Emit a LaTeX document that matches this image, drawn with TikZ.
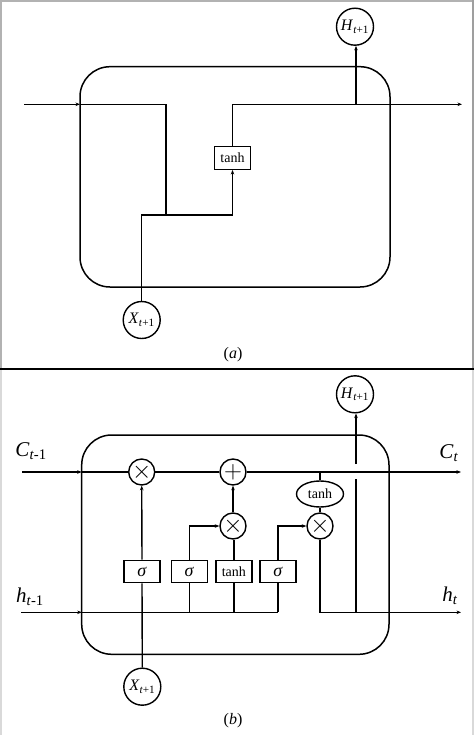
\documentclass[tikz,border=0pt]{standalone}
\usepackage{fontspec}
\setmainfont{Liberation Serif}
\usetikzlibrary{arrows.meta,shapes.geometric}
\begin{document}
\begin{tikzpicture}[x=1pt,y=-1pt,
  line/.style={line width=1.4pt, black},
  arr/.style={line, -{Stealth[length=4.5pt,width=3.5pt]}},
  cell/.style={line width=1.5pt, rounded corners=30pt},
  opc/.style={circle, draw, line width=1.4pt, minimum size=26pt, inner sep=0pt, font=\fontsize{24}{24}\selectfont},
  vc/.style={circle, draw, line width=1.4pt, minimum size=37pt, inner sep=0pt, font=\fontsize{16}{16}\selectfont},
  gate/.style={rectangle, draw, line width=1.4pt, minimum width=36pt, minimum height=22.5pt, inner sep=0pt, font=\fontsize{14}{14}\selectfont},
  sig/.style={font=\fontsize{18}{18}\selectfont},
  tanhe/.style={ellipse, draw, line width=1.4pt, minimum width=47pt, minimum height=26pt, inner sep=0pt, font=\fontsize{14}{14}\selectfont},
  lab/.style={font=\fontsize{21}{21}\selectfont, inner sep=0pt},
  capt/.style={font=\fontsize{16}{16}\selectfont, inner sep=0pt}
]
\useasboundingbox (0,0) rectangle (474,735);
% frames
\fill[gray!60] (0,0) rectangle (474,2.5);
\fill[gray!60] (0,0) rectangle (2,368);
\fill[gray!75] (472,0) rectangle (474,368);
\fill[black] (0,367.5) rectangle (474,370);
\fill[gray!30] (0,370) rectangle (2,735);
\fill[gray!30] (472,370) rectangle (474,735);

% ================= panel (a) =================
\draw[cell] (80,66.7) rectangle (390,287);
\coordinate (ain) at (24,104.3);
\coordinate (aedge) at (80,104.3);
\coordinate (aout) at (462,104.3);
\node[vc] (xa) at (141.7,320) {\textit{X}\textsubscript{\textit{t}+1}};
\node[vc] (ha) at (355,26.7) {\textit{H}\textsubscript{\textit{t}+1}};
\node[gate] (ta) at (232.5,158) {tanh};
\coordinate (aj) at (356,104.3);
\draw[arr] (ain) -- (aedge);
\draw[line] (aedge) -- (166,104.3) -- (166,215);
\draw[arr] (xa.north) -- (141.7,215) -- (232.5,215) -- (ta.south);
\draw[arr] (ta.north) -- (232.5,104.3) -- (aout);
\draw[arr] (aj) -- (aj |- ha.south);
\node[capt] (capa) at (233,355) {(\textit{a})};

% ================= panel (b) =================
\draw[cell] (81.7,435) rectangle (389,654.3);
\coordinate (cin) at (22,472);
\coordinate (cedge) at (81.7,472);
\coordinate (cout) at (461,472);
\coordinate (hin) at (21,612.3);
\coordinate (hedge) at (81.7,612.3);
\coordinate (hout) at (461,612.3);

\node[opc] (m1) at (141.7,472) {$\times$};
\node[opc] (pl) at (233,472) {$+$};
\node[opc] (m2) at (233,526) {$\times$};
\node[opc] (m3) at (320,526) {$\times$};
\node[tanhe] (te) at (320,494) {tanh};
\node[gate,sig] (s1) at (142,571.5) {\textit{σ}};
\node[gate,sig] (s2) at (189.3,571.5) {\textit{σ}};
\node[gate] (tb) at (233.8,571.5) {tanh};
\node[gate,sig] (s3) at (278,571.5) {\textit{σ}};
\node[vc] (xb) at (142.3,686.7) {\textit{X}\textsubscript{\textit{t}+1}};
\node[vc] (hb) at (355,394.3) {\textit{H}\textsubscript{\textit{t}+1}};

\node[lab] (lc1) at (31,451) {\textit{C}\textsubscript{\textit{t}-1}};
\node[lab] (lh1) at (30,597) {\textit{h}\textsubscript{\textit{t}-1}};
\node[lab] (lc) at (449,453) {\textit{C}\textsubscript{\textit{t}}};
\node[lab] (lh) at (450,596) {\textit{h}\textsubscript{\textit{t}}};

% cell state line
\draw[arr] (cin) -- (cedge);
\draw[line] (cedge) -- (m1.west);
\draw[line] (m1.east) -- (pl.west);
\draw[arr] (pl.east) -- (cout);
% hidden line
\draw[arr] (hin) -- (hedge);
\draw[line] (hedge) -- (278,612.3);
\draw[line] (s2.south) -- (s2.south |- hedge);
\draw[line] (tb.south) -- (tb.south |- hedge);
\draw[line] (s3.south) -- (s3.south |- hedge);
% forget gate
\draw[line] (xb.north) -- (s1.south);
\draw[arr] (s1.north) -- (m1.south);
% input gate
\draw[arr] (s2.north) -- (s2.north |- m2.west) -- (m2.west);
\draw[line] (tb.north) -- (tb.north |- m2.south);
\draw[arr] (m2.north) -- (pl.south);
% output gate
\draw[arr] (s3.north) -- (s3.north |- m3.west) -- (m3.west);
\draw[line] (m3.north) -- (te.south);
\draw[line] (te.north) -- (te.north |- cout);
\draw[arr] (m3.south) -- (320,612.3) -- (hout);
% output H
\coordinate (hj) at (356,612.3);
\coordinate (hg1) at (356,479);
\coordinate (hg2) at (356,464);
\draw[line] (hj) -- (hg1);
\draw[arr] (hg2) -- (hg2 |- hb.south);
\node[capt] (capb) at (233,721) {(\textit{b})};
\end{tikzpicture}
\end{document}
